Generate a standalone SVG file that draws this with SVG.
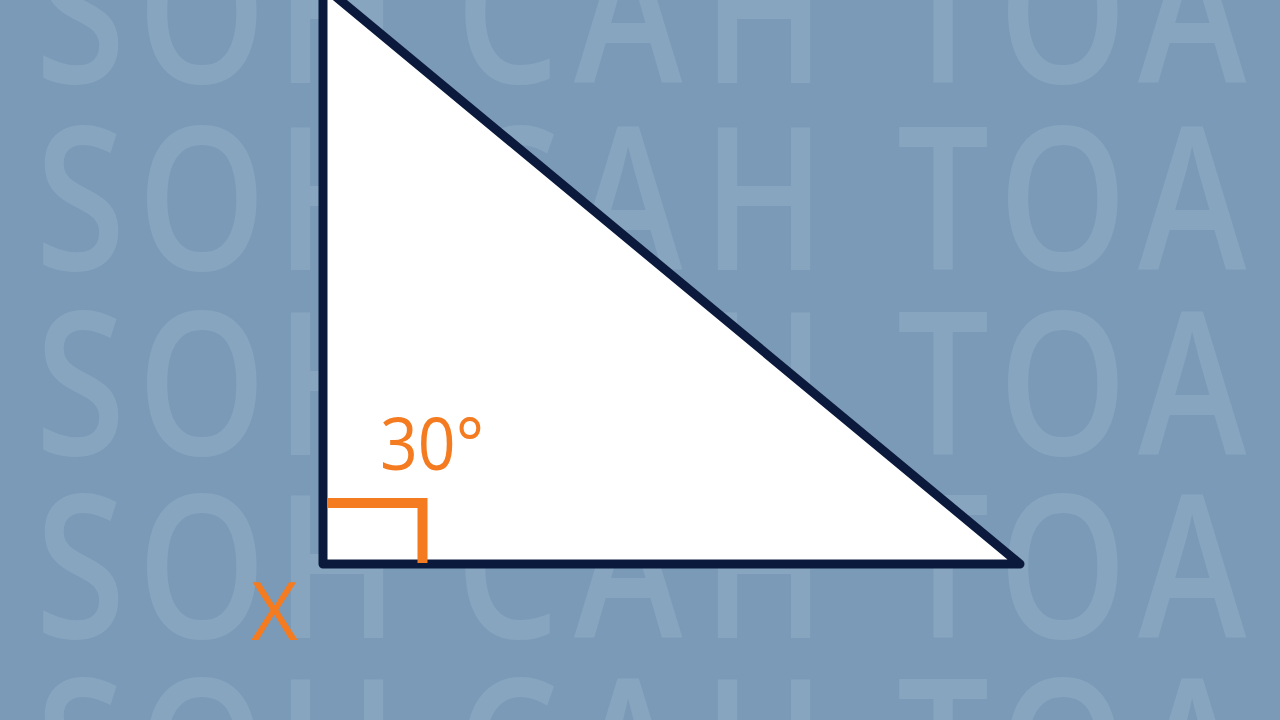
<svg xmlns="http://www.w3.org/2000/svg" width="1280" height="720" viewBox="0 0 1280 720">
  <style>
    .wm { font-family: "Open Sans", "Noto Sans", "DejaVu Sans", sans-serif; font-weight: 600; font-size: 200px; fill: #87a5bf; text-anchor: middle; }
    .lbl { font-family: "Open Sans", "Noto Sans", "DejaVu Sans", sans-serif; font-weight: 400; fill: #f47b20; }
  </style>
  <rect id="background" x="0" y="0" width="1280" height="720" fill="#7a9ab7"/>
  <g id="watermark" transform="scale(0.82,1)">
    <text class="wm" y="83" x="98 246 411 520 619 766 932 1050 1150 1296 1454">SOH CAH TOA</text>
    <text class="wm" y="270" x="98 246 411 520 619 766 932 1050 1150 1296 1454">SOH CAH TOA</text>
    <text class="wm" y="455" x="98 246 411 520 619 766 932 1050 1150 1296 1454">SOH CAH TOA</text>
    <text class="wm" y="638" x="98 246 411 520 619 766 932 1050 1150 1296 1454">SOH CAH TOA</text>
    <text class="wm" y="822" x="98 246 411 520 619 766 932 1050 1150 1296 1454">SOH CAH TOA</text>
  </g>
  <g id="triangle">
    <polygon points="323,-14 323,564 1020,564" fill="#ffffff" stroke="#0b1a3c" stroke-width="9" stroke-linejoin="round"/>
  </g>
  <g id="right-angle">
    <path d="M 327 503 H 422.5 V 563" fill="none" stroke="#f47b20" stroke-width="10" stroke-linejoin="miter"/>
  </g>
  <g id="angle-label">
    <text class="lbl" x="380" y="470" font-size="73" textLength="104" lengthAdjust="spacingAndGlyphs">30°</text>
  </g>
  <g id="x-label">
    <text class="lbl" x="251" y="640" font-size="81">X</text>
  </g>
</svg>
